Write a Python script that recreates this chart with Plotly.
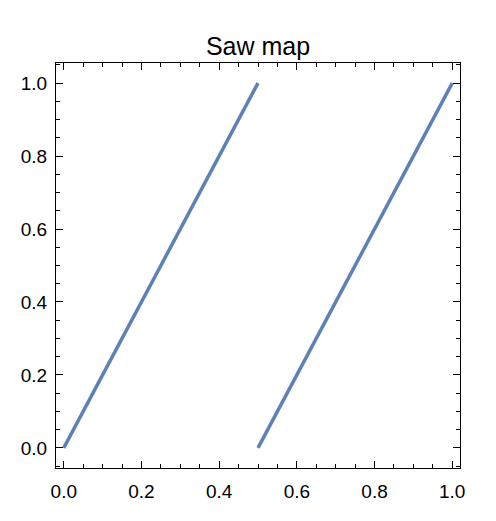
import plotly.graph_objects as go

# Saw map segments: f(x) = 2x mod 1
seg1_x = [0.0, 0.5]
seg1_y = [0.0, 1.0]
seg2_x = [0.5, 1.0]
seg2_y = [0.0, 1.0]

x_ticks = [0.0, 0.2, 0.4, 0.6, 0.8, 1.0]
x_tick_labels = ["0.0", "0.2", "0.4", "0.6", "0.8", "1.0"]
y_ticks = [0.0, 0.2, 0.4, 0.6, 0.8, 1.0]
y_tick_labels = ["0.0", "0.2", "0.4", "0.6", "0.8", "1.0"]

xs = seg1_x + [None] + seg2_x
ys = seg1_y + [None] + seg2_y

# page is offset by the default 8px body margin
OFF = 8
W, H = 496 - OFF, 521 - OFF
L, R, T, B = 55.5 - OFF, 460.5 - OFF, 63.3 - OFF, 468.3 - OFF

fig = go.Figure()
fig.add_trace(go.Scatter(x=xs, y=ys, mode="lines",
                         line=dict(color="#5E81B5", width=3.5),
                         connectgaps=False, showlegend=False))

font = dict(family="Liberation Sans, Arial, sans-serif", size=19, color="black")
axis_common = dict(
    showgrid=False, zeroline=False, showline=True, linecolor="black", linewidth=1.2,
    mirror="allticks", ticks="inside", ticklen=7, tickwidth=1, tickcolor="black",
    tickfont=font, automargin=False,
    minor=dict(ticks="inside", ticklen=4, tickwidth=1, tickcolor="black", dtick=0.05, showgrid=False),
)

fig.update_xaxes(range=[-0.02, 1.02], tickvals=x_ticks, ticktext=x_tick_labels,
                 ticklabelstandoff=6, **axis_common)
fig.update_yaxes(range=[-0.055, 1.055], tickvals=y_ticks, ticktext=y_tick_labels,
                 ticklabelstandoff=4, **axis_common)

fig.update_layout(
    width=W, height=H,
    margin=dict(l=L, r=W - R, t=T, b=H - B, autoexpand=False),
    paper_bgcolor="white", plot_bgcolor="white",
    title=dict(text="Saw map", x=((L + R) / 2) / W, xanchor="center",
               y=1 - (46 - OFF) / H, yanchor="middle", yref="container",
               font=dict(family="Liberation Sans, Arial, sans-serif", size=25, color="black")),
)

fig.write_html("out.html")
